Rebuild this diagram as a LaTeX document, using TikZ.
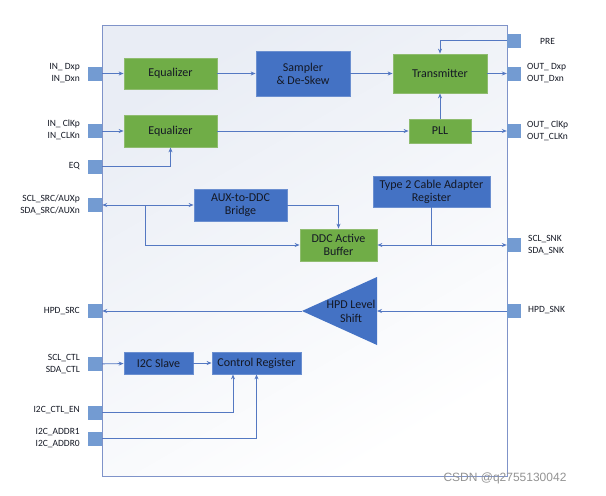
\documentclass[tikz,border=0pt]{standalone}
\usepackage{fontspec}
\setmainfont{Carlito}
\newfontfamily\wmfont{Liberation Sans}
\usetikzlibrary{arrows.meta}
\definecolor{boxline}{HTML}{7F93C9}
\definecolor{pinfill}{HTML}{739BD2}
\definecolor{gfill}{HTML}{70AD47}
\definecolor{gline}{HTML}{8FBC6F}
\definecolor{bfill}{HTML}{4472C4}
\definecolor{bline}{HTML}{6B8FD0}
\definecolor{wire}{HTML}{5478C2}
\definecolor{txt}{HTML}{141824}
\begin{document}
\begin{tikzpicture}[x=1pt,y=-1pt,
  pin/.style={draw=none,fill=pinfill,minimum size=14pt,inner sep=0pt},
  gblk/.style={draw=gline,fill=gfill,line width=0.8pt,inner sep=0pt,align=center,text=txt,font=\fontsize{12}{13}\selectfont},
  bblk/.style={draw=bline,fill=bfill,line width=0.8pt,inner sep=0pt,align=center,text=txt,font=\fontsize{12}{13}\selectfont},
  lbl/.style={font=\fontsize{9.5}{12}\selectfont,align=right,inner sep=0pt,text=txt},
  rlbl/.style={font=\fontsize{9.5}{12}\selectfont,align=left,inner sep=0pt,text=txt},
  wr/.style={draw=wire,line width=0.8pt},
  arr/.style={wr,-{Stealth[length=5pt,width=4pt]}},
  arrb/.style={wr,{Stealth[length=5pt,width=4pt]}-{Stealth[length=5pt,width=4pt]}}]
\useasboundingbox (0,0) rectangle (606,496);
% main box
\fill[top color=white,bottom color={rgb,255:red,233;green,237;blue,245},shading angle=210,draw=boxline,line width=0.9pt] (102,25) rectangle (507,476);

% left pins
\node[pin] (pind) at (95,73.5) {};
\node[pin] (pclk) at (95,131) {};
\node[pin] (peq) at (95,166.5) {};
\node[pin] (psrc) at (95,205) {};
\node[pin] (phsrc) at (95,311) {};
\node[pin] (pctl) at (95,364) {};
\node[pin] (pen) at (95,412.5) {};
\node[pin] (paddr) at (95,438.5) {};
% right pins
\node[pin] (ppre) at (514,40.5) {};
\node[pin] (pod) at (514,73.5) {};
\node[pin] (poc) at (514,131) {};
\node[pin] (psnk) at (514,245) {};
\node[pin] (phsnk) at (514,311) {};

% left labels
\node[lbl,anchor=east] (l1) at (80,73.5) {IN\_ Dxp\\IN\_Dxn};
\node[lbl,anchor=east] (l2) at (80,130) {IN\_ ClKp\\IN\_CLKn};
\node[lbl,anchor=east] (l3) at (80,166.5) {EQ};
\node[lbl,anchor=east] (l4) at (80,205) {SCL\_SRC/AUXp\\SDA\_SRC/AUXn};
\node[lbl,anchor=east] (l5) at (80,311) {HPD\_SRC};
\node[lbl,anchor=east] (l6) at (80,364) {SCL\_CTL\\SDA\_CTL};
\node[lbl,anchor=east] (l7) at (80,410) {I2C\_CTL\_EN};
\node[lbl,anchor=east] (l8) at (80,438) {I2C\_ADDR1\\I2C\_ADDR0};
% right labels
\node[rlbl,anchor=west] (r1) at (540,41) {PRE};
\node[rlbl,anchor=west] (r2) at (527,73.5) {OUT\_ Dxp\\OUT\_Dxn};
\node[rlbl,anchor=west] (r3) at (527,131) {OUT\_ ClKp\\OUT\_CLKn};
\node[rlbl,anchor=west] (r4) at (528,245) {SCL\_SNK\\SDA\_SNK};
\node[rlbl,anchor=west] (r5) at (528,310) {HPD\_SNK};

% blocks
\node[gblk,minimum width=93pt,minimum height=31pt] (eqA) at (170.5,73.5) {Equalizer};
\node[gblk,minimum width=93pt,minimum height=32pt] (eqB) at (170.5,131) {Equalizer};
\node[bblk,minimum width=94pt,minimum height=45pt] (samp) at (303,73.5) {Sampler\\\& De-Skew};
\node[gblk,minimum width=94pt,minimum height=39pt] (tx) at (440,73.5) {Transmitter};
\node[gblk,minimum width=62pt,minimum height=24pt] (pll) at (440,131) {PLL};
\node[bblk,minimum width=93pt,minimum height=32pt] (aux) at (240.5,205) {AUX-to-DDC\\Bridge};
\node[bblk,minimum width=117pt,minimum height=31pt] (t2) at (431.5,191.5) {Type 2 Cable Adapter\\Register};
\node[gblk,minimum width=77pt,minimum height=32pt] (ddc) at (338.5,245) {DDC Active\\Buffer};
\node[bblk,minimum width=69pt,minimum height=22pt] (i2c) at (158.5,363) {I2C Slave};
\node[bblk,minimum width=89pt,minimum height=22pt] (ctrl) at (256.5,363) {Control Register};

% HPD level shift triangle
\coordinate (hpdL) at (302,311);
\coordinate (hpdR) at (377,311);
\fill[bfill] (hpdL) -- (377,277) -- (377,345) -- cycle;
\node[align=center,inner sep=0pt,text=txt,font=\fontsize{12}{14}\selectfont] (hpdt) at (351,311) {HPD Level\\Shift};

% connectors
\draw[arr] (pind) -- (eqA);
\draw[arr] (eqA) -- (samp);
\draw[arr] (samp) -- (tx);
\draw[arr] (tx) -- (pod);
\draw[arr] (ppre) -| (tx);
\draw[arr] (pclk) -- (eqB);
\draw[arr] (eqB) -- (pll);
\draw[arr] (pll) -- (tx);
\draw[arr] (pll) -- (poc);
\draw[arr] (peq) -| (eqB);
\draw[arrb] (psrc) -- (aux);
\coordinate (br) at (145,205);
\draw[arr] (br) |- (ddc);
\draw[arr] (aux) -| (ddc);
\draw[arrb] (ddc) -- (psnk);
\draw[wr] (t2) -- (t2 |- ddc);
\draw[arr] (phsnk) -- (hpdR);
\draw[arr] (hpdL) -- (phsrc);
\draw[arr] (pctl) -- (i2c);
\draw[arr] (i2c) -- (ctrl);
\draw[arr] (pen) -| ([xshift=-23.5pt]ctrl.south);
\draw[arr] (paddr) -| (ctrl);

% watermark
\node[text=gray!85,font=\wmfont\fontsize{12}{12}\selectfont,inner sep=0pt] (wm) at (505,478) {CSDN @q2755130042};
\end{tikzpicture}
\end{document}
